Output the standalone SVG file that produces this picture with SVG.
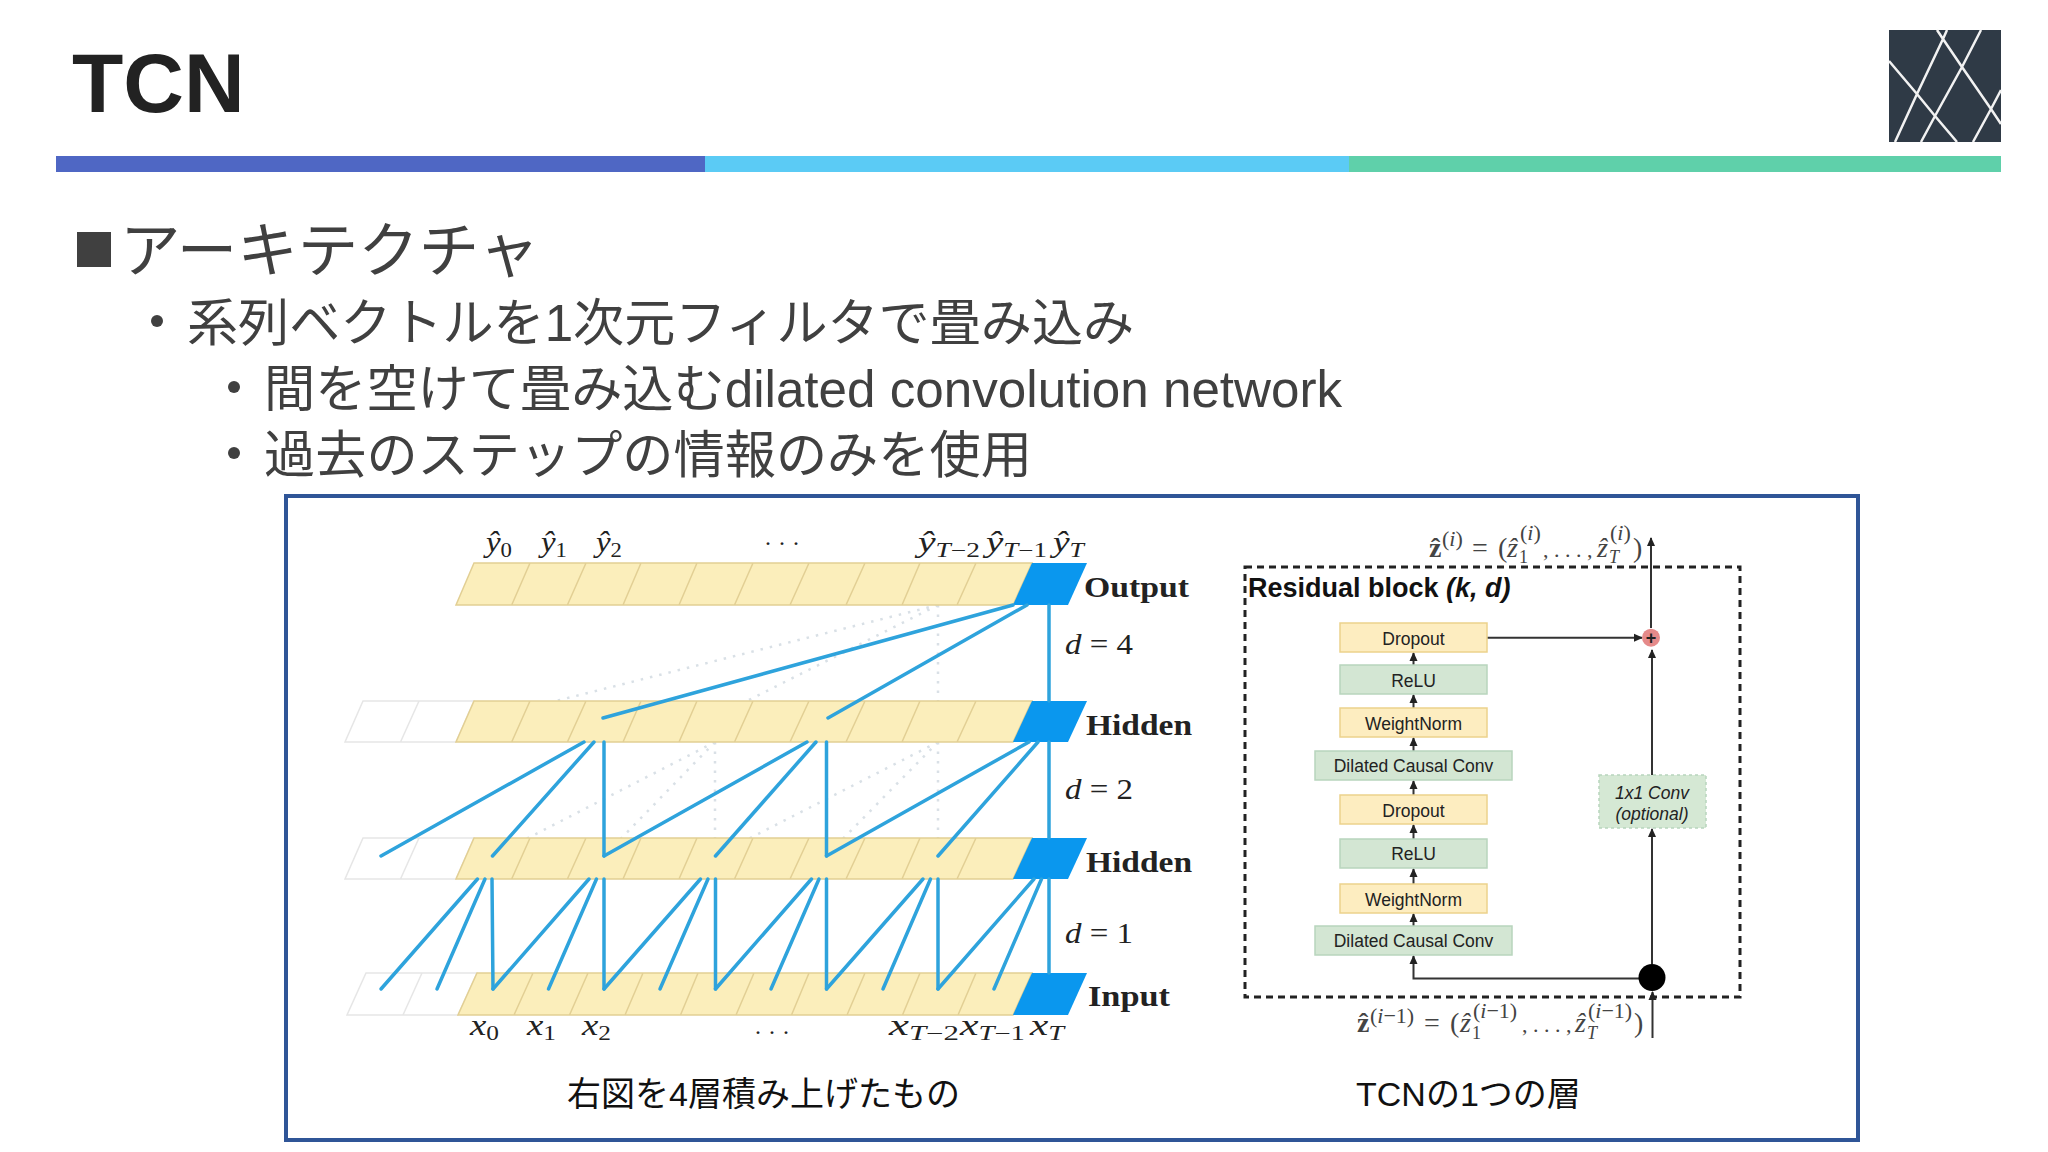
<svg xmlns="http://www.w3.org/2000/svg" width="2048" height="1152" viewBox="0 0 2048 1152">
<defs>
<marker id="ah" markerUnits="userSpaceOnUse" markerWidth="10" markerHeight="10" refX="8" refY="5" orient="auto"><path d="M0 1 L9 5 L0 9 Z" fill="#222"/></marker>
</defs>
<style>
.cjk{font-family:"Liberation Sans","Noto Sans CJK JP",sans-serif}
.body{fill:#404040}
.y{fill:#fbeebb;stroke:#e2cf94;stroke-width:1.5}
.w{fill:#fff;stroke:#e6e6e6;stroke-width:1.5}
.b{fill:#0a97ee}
.m{font-family:"Liberation Serif",serif;fill:#222;font-size:29px}
.mi{font-style:italic}
.sub{font-size:20px}
.dots{font-family:"Liberation Serif",serif;fill:#222;font-size:24px}
.lb{font-family:"Liberation Serif",serif;font-weight:700;fill:#222;font-size:30px}
.bx{font-family:"Liberation Sans",sans-serif;font-size:17.5px;fill:#222;text-anchor:middle}
.by{fill:#fdedc0;stroke:#ecd28c;stroke-width:1.5}
.bg{fill:#d3e6d3;stroke:#b8d5bd;stroke-width:1.5}
.eq{font-family:"Liberation Serif",serif;fill:#444;font-size:28px}
.eqd{font-family:"Liberation Serif",serif;fill:#444;font-size:22px}
.eqs{font-family:"Liberation Serif",serif;fill:#444;font-size:22px}
.eqn{font-family:"Liberation Serif",serif;fill:#444;font-size:18px}
#connectors line{stroke:#2ea3dc;stroke-width:3.5;stroke-linecap:round}
#faint line{stroke:#d9e0e6;stroke-width:2.5;stroke-dasharray:2.5 7}
#flow path,#flow line{stroke:#333;stroke-width:2;fill:none;marker-end:url(#ah)}
</style>
<rect width="2048" height="1152" fill="#fff"/>
<g id="header">
<text x="72" y="112" font-family="Liberation Sans" font-weight="700" font-size="84" fill="#222">TCN</text>
<rect x="56" y="156" width="649" height="16" fill="#4f67c4"/>
<rect x="705" y="156" width="644" height="16" fill="#5bcbf5"/>
<rect x="1349" y="156" width="652" height="16" fill="#5fd0aa"/>
<rect x="1889" y="30" width="112" height="112" fill="#2f3a46"/>
<path d="M1889 61 L1917 94 L1935 116 L1957 142 M1895 142 L1917 94 L1943 39 L1947 30 M1937 30 L1943 39 L1962 67 L1991 109 L2001 124 M1921 142 L1935 116 L1962 67 L1981 30 M1973 142 L1991 109 L2001 90" fill="none" stroke="#f2f2f2" stroke-width="2.5"/>
</g>
<g id="bullets" class="cjk body">
<rect x="77" y="232" width="34" height="35" fill="#404040"/>
<text x="120" y="272" font-size="60.5">アーキテクチャ</text>
<circle cx="157" cy="321" r="6" fill="#404040"/>
<text x="187" y="340.5" font-size="51.1">系列ベクトルを1次元フィルタで畳み込み</text>
<circle cx="234" cy="387" r="6" fill="#404040"/>
<text x="264" y="406.5" font-size="51.2">間を空けて畳み込むdilated convolution network</text>
<circle cx="234" cy="453" r="6" fill="#404040"/>
<text x="264" y="472.5" font-size="51.2">過去のステップの情報のみを使用</text>
</g>
<rect id="frame" x="286" y="496" width="1572" height="644" fill="#fff" stroke="#2f5597" stroke-width="4"/>
<g id="faint">
<line x1="938" y1="605" x2="492" y2="717"/><line x1="938" y1="605" x2="715" y2="717"/><line x1="938" y1="605" x2="938" y2="717"/>
<line x1="715" y1="742" x2="493" y2="856"/><line x1="715" y1="742" x2="604" y2="856"/><line x1="715" y1="742" x2="715" y2="856"/>
<line x1="938" y1="742" x2="715" y2="856"/><line x1="938" y1="742" x2="826" y2="856"/><line x1="938" y1="742" x2="938" y2="856"/>
</g>
<g id="strip-output">
<path class="y" d="M474 563H1032L1013 605H456Z M530 563L511.7 605 M586 563L567.4 605 M641 563L623 605 M697 563L679 605 M753 563L734.5 605 M809 563L790 605 M865 563L846 605 M920 563L902 605 M976 563L957 605"/>
<path class="b" d="M1032 563H1087L1068 605H1013Z"/>
</g>
<g id="strip-hidden1">
<path class="w" d="M363 701H474L456 742H345Z M419 701L400.5 742"/>
<path class="y" d="M474 701H1032L1013 742H456Z M530 701L511.7 742 M586 701L567.4 742 M641 701L623 742 M697 701L679 742 M753 701L734.5 742 M809 701L790 742 M865 701L846 742 M920 701L902 742 M976 701L957 742"/>
<path class="b" d="M1032 701H1087L1068 742H1013Z"/>
</g>
<g id="strip-hidden2">
<path class="w" d="M363 838H474L456 879H345Z M419 838L400.5 879"/>
<path class="y" d="M474 838H1032L1013 879H456Z M530 838L511.7 879 M586 838L567.4 879 M641 838L623 879 M697 838L679 879 M753 838L734.5 879 M809 838L790 879 M865 838L846 879 M920 838L902 879 M976 838L957 879"/>
<path class="b" d="M1032 838H1087L1068 879H1013Z"/>
</g>
<g id="strip-input">
<path class="w" d="M366 973H477L458 1015H347Z M422 973L403 1015"/>
<path class="y" d="M477 973H1032L1013 1015H458Z M533 973L514 1015 M588 973L569.5 1015 M643 973L625 1015 M698 973L680.5 1015 M754 973L736 1015 M809 973L791.5 1015 M865 973L847 1015 M920 973L902.5 1015 M976 973L958 1015"/>
<path class="b" d="M1032 973H1087L1068 1015H1013Z"/>
</g>
<g id="connectors">
<line x1="1013" y1="605" x2="603" y2="718"/><line x1="1027" y1="605" x2="828" y2="718"/><line x1="1049" y1="605" x2="1049" y2="701"/>
<line x1="584" y1="742" x2="381" y2="856"/><line x1="594" y1="742" x2="492.5" y2="856"/><line x1="604" y1="742" x2="604" y2="856"/>
<line x1="807" y1="742" x2="604" y2="856"/><line x1="816" y1="742" x2="715.5" y2="856"/><line x1="826.5" y1="742" x2="826.5" y2="856"/>
<line x1="1029" y1="742" x2="826.5" y2="856"/><line x1="1038" y1="742" x2="938" y2="856"/><line x1="1049" y1="742" x2="1049" y2="838"/>
<line x1="477.5" y1="879" x2="381" y2="989"/><line x1="485" y1="879" x2="437" y2="989"/><line x1="492" y1="879" x2="493" y2="989"/>
<line x1="589" y1="879" x2="493" y2="989"/><line x1="596.5" y1="879" x2="548.5" y2="989"/><line x1="604" y1="879" x2="604" y2="989"/>
<line x1="700.5" y1="879" x2="604" y2="989"/><line x1="708" y1="879" x2="660" y2="989"/><line x1="715.5" y1="879" x2="715.5" y2="989"/>
<line x1="811.5" y1="879" x2="715.5" y2="989"/><line x1="819" y1="879" x2="771" y2="989"/><line x1="826.5" y1="879" x2="826.5" y2="989"/>
<line x1="923" y1="879" x2="826.5" y2="989"/><line x1="930.5" y1="879" x2="883" y2="989"/><line x1="938" y1="879" x2="938" y2="989"/>
<line x1="1034" y1="879" x2="938" y2="989"/><line x1="1041.5" y1="879" x2="994" y2="989"/><line x1="1049" y1="879" x2="1049" y2="973"/>
</g>
<g id="labels-left">
<text class="m mi" x="486" y="552" textLength="26" lengthAdjust="spacingAndGlyphs">ŷ<tspan class="sub" dy="5" font-style="normal">0</tspan></text>
<text class="m mi" x="541" y="552" textLength="26" lengthAdjust="spacingAndGlyphs">ŷ<tspan class="sub" dy="5" font-style="normal">1</tspan></text>
<text class="m mi" x="596" y="552" textLength="26" lengthAdjust="spacingAndGlyphs">ŷ<tspan class="sub" dy="5" font-style="normal">2</tspan></text>
<text class="dots" x="764" y="551">· · ·</text>
<text class="m mi" x="918" y="552" textLength="62" lengthAdjust="spacingAndGlyphs">ŷ<tspan class="sub" dy="5">T</tspan><tspan class="sub" font-style="normal">−2</tspan></text>
<text class="m mi" x="986" y="552" textLength="61" lengthAdjust="spacingAndGlyphs">ŷ<tspan class="sub" dy="5">T</tspan><tspan class="sub" font-style="normal">−1</tspan></text>
<text class="m mi" x="1053" y="552" textLength="31" lengthAdjust="spacingAndGlyphs">ŷ<tspan class="sub" dy="5">T</tspan></text>
<text class="lb" x="1084" y="597" textLength="105" lengthAdjust="spacingAndGlyphs">Output</text>
<text class="lb" x="1086" y="735" textLength="106" lengthAdjust="spacingAndGlyphs">Hidden</text>
<text class="lb" x="1086" y="872" textLength="106" lengthAdjust="spacingAndGlyphs">Hidden</text>
<text class="lb" x="1088" y="1006" textLength="82" lengthAdjust="spacingAndGlyphs">Input</text>
<text class="m" x="1065" y="654" textLength="68" lengthAdjust="spacingAndGlyphs"><tspan class="mi">d</tspan> = 4</text>
<text class="m" x="1065" y="799" textLength="68" lengthAdjust="spacingAndGlyphs"><tspan class="mi">d</tspan> = 2</text>
<text class="m" x="1065" y="943" textLength="68" lengthAdjust="spacingAndGlyphs"><tspan class="mi">d</tspan> = 1</text>
<text class="m mi" x="470" y="1035" textLength="29" lengthAdjust="spacingAndGlyphs">x<tspan class="sub" dy="5" font-style="normal">0</tspan></text>
<text class="m mi" x="527" y="1035" textLength="29" lengthAdjust="spacingAndGlyphs">x<tspan class="sub" dy="5" font-style="normal">1</tspan></text>
<text class="m mi" x="582" y="1035" textLength="29" lengthAdjust="spacingAndGlyphs">x<tspan class="sub" dy="5" font-style="normal">2</tspan></text>
<text class="dots" x="754" y="1040">· · ·</text>
<text class="m mi" x="889" y="1035" textLength="70" lengthAdjust="spacingAndGlyphs">x<tspan class="sub" dy="5">T</tspan><tspan class="sub" font-style="normal">−2</tspan></text>
<text class="m mi" x="960" y="1035" textLength="65" lengthAdjust="spacingAndGlyphs">x<tspan class="sub" dy="5">T</tspan><tspan class="sub" font-style="normal">−1</tspan></text>
<text class="m mi" x="1030" y="1035" textLength="34" lengthAdjust="spacingAndGlyphs">x<tspan class="sub" dy="5">T</tspan></text>
<text class="cjk" x="567" y="1106" font-size="34" fill="#111">右図を4層積み上げたもの</text>
<text class="cjk" x="1356" y="1106" font-size="34" fill="#111">TCNの1つの層</text>
</g>
<rect id="residual-frame" x="1245" y="567" width="495" height="430" fill="none" stroke="#222" stroke-width="3" stroke-dasharray="7 5"/>
<text id="residual-title" x="1248" y="597" font-family="Liberation Sans" font-weight="700" font-size="27" fill="#111">Residual block <tspan font-style="italic">(k, d)</tspan></text>
<g id="flow">
<line x1="1413.5" y1="665" x2="1413.5" y2="653"/><line x1="1413.5" y1="708" x2="1413.5" y2="695"/><line x1="1413.5" y1="751" x2="1413.5" y2="738"/><line x1="1413.5" y1="795" x2="1413.5" y2="781"/>
<line x1="1413.5" y1="839" x2="1413.5" y2="825"/><line x1="1413.5" y1="884" x2="1413.5" y2="869"/><line x1="1413.5" y1="926" x2="1413.5" y2="914"/>
<path d="M1640 978.5H1413.5V956"/>
<line x1="1487" y1="637.7" x2="1642" y2="637.7"/>
<line x1="1652" y1="775" x2="1652" y2="650"/>
<line x1="1651" y1="628" x2="1651" y2="538"/>
<line x1="1652" y1="964" x2="1652" y2="829"/>
<line x1="1652.5" y1="1038" x2="1652.5" y2="992"/>
</g>
<g id="node-dropout-1"><rect class="by" x="1340" y="623" width="147" height="29"/><text class="bx" x="1413.5" y="645">Dropout</text></g>
<g id="node-relu-1"><rect class="bg" x="1340" y="665" width="147" height="29"/><text class="bx" x="1413.5" y="687">ReLU</text></g>
<g id="node-weightnorm-1"><rect class="by" x="1340" y="708" width="147" height="29"/><text class="bx" x="1413.5" y="730">WeightNorm</text></g>
<g id="node-dcc-1"><rect class="bg" x="1315" y="751" width="197" height="29"/><text class="bx" x="1413.5" y="772">Dilated Causal Conv</text></g>
<g id="node-dropout-2"><rect class="by" x="1340" y="795" width="147" height="29"/><text class="bx" x="1413.5" y="817">Dropout</text></g>
<g id="node-relu-2"><rect class="bg" x="1340" y="839" width="147" height="29"/><text class="bx" x="1413.5" y="860">ReLU</text></g>
<g id="node-weightnorm-2"><rect class="by" x="1340" y="884" width="147" height="29"/><text class="bx" x="1413.5" y="906">WeightNorm</text></g>
<g id="node-dcc-2"><rect class="bg" x="1315" y="926" width="197" height="29"/><text class="bx" x="1413.5" y="947">Dilated Causal Conv</text></g>
<g id="node-conv"><rect x="1599" y="775" width="107" height="53" fill="#d5e8d4" stroke="#b8d5bd" stroke-width="1.5" stroke-dasharray="3 3"/><text class="bx" x="1652" y="799" font-style="italic">1x1 Conv</text><text class="bx" x="1652" y="820" font-style="italic">(optional)</text></g>
<g id="node-plus"><circle cx="1651" cy="637.7" r="9" fill="#e58a8a"/><text x="1651" y="644" text-anchor="middle" font-family="Liberation Sans" font-size="18" font-weight="700" fill="#222">+</text></g>
<circle id="node-split" cx="1652" cy="977.5" r="13.5" fill="#000"/>
<g id="eq-top">
<text class="eq" x="1429" y="557" font-weight="700">ẑ</text><text class="eqs" x="1442" y="546">(<tspan font-style="italic">i</tspan>)</text>
<text class="eq" x="1472" y="557">=</text><text class="eq" x="1498" y="557">(</text>
<text class="eq" x="1507" y="557" font-style="italic">ẑ</text><text class="eqn" x="1519" y="563">1</text><text class="eqs" x="1520" y="540">(<tspan font-style="italic">i</tspan>)</text>
<text class="eqd" x="1543" y="557">, . . . ,</text>
<text class="eq" x="1597" y="557" font-style="italic">ẑ</text><text class="eqn" x="1609" y="563" font-style="italic">T</text><text class="eqs" x="1610" y="540">(<tspan font-style="italic">i</tspan>)</text>
<text class="eq" x="1633" y="557">)</text>
</g>
<g id="eq-bottom">
<text class="eq" x="1357" y="1032" font-weight="700">ẑ</text><text class="eqs" x="1370" y="1023">(<tspan font-style="italic">i</tspan>−1)</text>
<text class="eq" x="1424" y="1032">=</text><text class="eq" x="1450" y="1032">(</text>
<text class="eq" x="1460" y="1032" font-style="italic">ẑ</text><text class="eqn" x="1472" y="1039">1</text><text class="eqs" x="1473" y="1018">(<tspan font-style="italic">i</tspan>−1)</text>
<text class="eqd" x="1522" y="1032">, . . . ,</text>
<text class="eq" x="1575" y="1032" font-style="italic">ẑ</text><text class="eqn" x="1587" y="1039" font-style="italic">T</text><text class="eqs" x="1588" y="1018">(<tspan font-style="italic">i</tspan>−1)</text>
<text class="eq" x="1634" y="1032">)</text>
</g>
</svg>
